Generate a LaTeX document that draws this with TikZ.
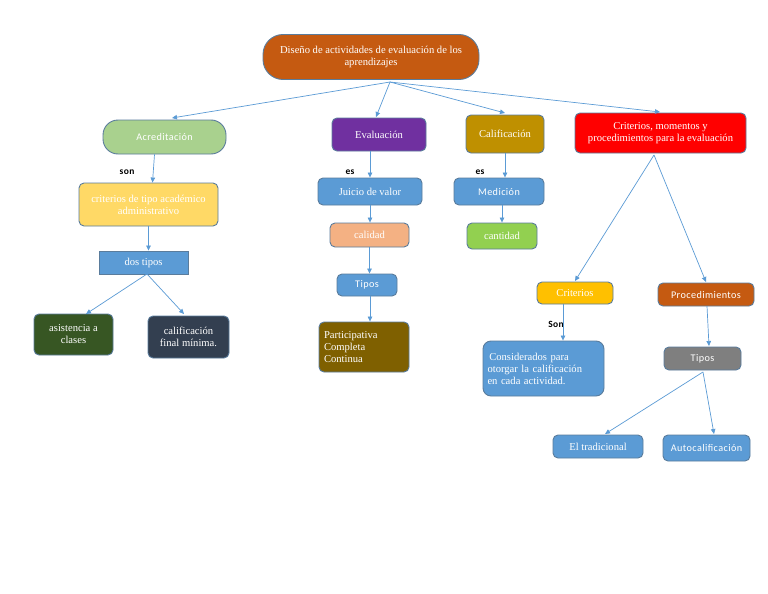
\documentclass[tikz,border=0pt]{standalone}
\usepackage{fontspec}
\setmainfont{Liberation Serif}
\newfontfamily\calib[LetterSpace=4]{Carlito}
\usetikzlibrary{arrows.meta}
\definecolor{cTop}{HTML}{C55A11}
\definecolor{cAcr}{HTML}{A9D18E}
\definecolor{cEva}{HTML}{7030A0}
\definecolor{cCal}{HTML}{BF9000}
\definecolor{cRed}{HTML}{FF0000}
\definecolor{cYel}{HTML}{FFD966}
\definecolor{cBlue}{HTML}{5B9BD5}
\definecolor{cDG}{HTML}{375623}
\definecolor{cNavy}{HTML}{333F50}
\definecolor{cPeach}{HTML}{F4B183}
\definecolor{cOlive}{HTML}{7F6000}
\definecolor{cLime}{HTML}{92D050}
\definecolor{cAmber}{HTML}{FFC000}
\definecolor{cGrey}{HTML}{7F7F7F}
\definecolor{cBorder}{HTML}{5A7C9C}
\definecolor{cArrow}{HTML}{5B9BD5}
\tikzset{
  box/.style={draw=cBorder, line width=0.9pt, rounded corners=5pt, text=white, inner sep=1pt, font=\fontsize{10.6}{12}\selectfont, align=center},
  sbox/.style={box, font=\calib\fontsize{10.2}{12}\selectfont},
  conn/.style={draw=cArrow, line width=0.7pt, -{Triangle[length=5pt,width=4.5pt]}},
  lbl/.style={font=\calib\bfseries\fontsize{9.5}{10}\selectfont, text=black, inner sep=0pt}
}
\begin{document}
\begin{tikzpicture}[x=1pt,y=-1pt]
\useasboundingbox (0,0) rectangle (768,594);
\fill[white] (0,0) rectangle (768,594);
% top
\node[box, fill=cTop, rounded corners=20pt, minimum width=216pt, minimum height=45pt] (top) at (371,57) {Diseño de actividades de evaluación de los\\aprendizajes};
\node[sbox, fill=cAcr, rounded corners=15pt, minimum width=123pt, minimum height=34pt] (acr) at (164.5,137) {Acreditación};
\node[box, fill=cEva, minimum width=94pt, minimum height=33pt] (eva) at (379,134.5) {Evaluación};
\node[box, fill=cCal, minimum width=78pt, minimum height=38pt] (cal) at (505,134) {Calificación};
\node[box, fill=cRed, minimum width=171pt, minimum height=40pt] (crm) at (660.5,133) {Criterios, momentos y\\procedimientos para la evaluación};
% left branch
\node[lbl] (son) at (127,172) {son};
\node[box, fill=cYel, minimum width=139pt, minimum height=43pt] (cta) at (148.5,204.5) {criterios de tipo académico\\administrativo};
\node[box, fill=cBlue, rounded corners=0pt, minimum width=89pt, minimum height=23pt] (dos) at (143.5,262.5) {dos tipos};
\node[box, fill=cDG, minimum width=79pt, minimum height=41pt] (asi) at (73.5,334.5) {asistencia a\\clases};
\node[box, fill=cNavy, minimum width=81pt, minimum height=42pt] (cfm) at (188.5,337) {calificación\\final mínima.};
% evaluacion branch
\node[lbl] (es1) at (350,172) {es};
\node[box, fill=cBlue, minimum width=104pt, minimum height=27pt] (jui) at (370,191.5) {Juicio de valor};
\node[box, fill=cPeach, minimum width=79pt, minimum height=24pt] (cald) at (369.5,235) {calidad};
\node[sbox, fill=cBlue, minimum width=60pt, minimum height=22pt] (tip1) at (367,285) {Tipos};
\node[box, fill=cOlive, minimum width=90pt, minimum height=50pt, align=left, text width=80pt] (par) at (364,347) {Participativa\\Completa\\Continua};
% calificacion branch
\node[lbl] (es2) at (480,172) {es};
\node[sbox, fill=cBlue, minimum width=90pt, minimum height=27pt] (med) at (499,191.5) {Medición};
\node[box, fill=cLime, minimum width=70pt, minimum height=26pt] (cant) at (502,236) {cantidad};
% criterios branch
\node[box, fill=cAmber, minimum width=76pt, minimum height=22pt] (cri) at (575,293) {Criterios};
\node[sbox, fill=cTop, minimum width=96pt, minimum height=23pt] (pro) at (706,294.5) {Procedimientos};
\node[lbl] (son2) at (556,324) {Son};
\node[box, fill=cBlue, rounded corners=8pt, minimum width=121pt, minimum height=55pt, align=left, text width=112pt] (con) at (543.5,368.5) {\,Considerados para\\otorgar la calificación\\en cada actividad.};
\node[sbox, fill=cGrey, minimum width=77pt, minimum height=23pt] (tip2) at (702.5,358.5) {Tipos};
\node[box, fill=cBlue, minimum width=90pt, minimum height=23pt] (tra) at (598,446.5) {El tradicional};
\node[sbox, fill=cBlue, minimum width=87pt, minimum height=26pt] (aut) at (706.5,448) {Autocalificación};
% connectors
\coordinate (tp) at (390,82);
\draw[conn] (tp) -- (172,118);
\draw[conn] (tp) -- (376,117);
\draw[conn] (tp) -- (505,113);
\draw[conn] (tp) -- (660,112);
\draw[conn] ([xshift=-10pt]acr.south) -- ([xshift=4pt]cta.north);
\draw[conn] (cta.south) -- (cta.south |- dos.north);
\coordinate (dt) at (147,274);
\draw[conn] (dt) -- (86,314);
\draw[conn] (dt) -- (184,314);
\draw[conn] ([xshift=-9pt]eva.south) -- ([xshift=-9pt]eva.south |- jui.north);
\draw[conn] (jui.south) -- (jui.south |- cald.north);
\draw[conn] (cald.south) -- (cald.south |- tip1.north);
\draw[conn] ([xshift=3pt]tip1.south) -- ([xshift=3pt]tip1.south |- par.north);
\draw[conn] (cal.south) -- (cal.south |- med.north);
\draw[conn] ([xshift=3pt]med.south) -- ([xshift=3pt]med.south |- cant.north);
\coordinate (cb) at (654,155);
\draw[conn] (cb) -- (575,281);
\draw[conn] (cb) -- (706,282);
\draw[conn] ([xshift=-12pt]cri.south) -- ([xshift=-12pt]cri.south |- con.north);
\draw[conn] (707,306) -- (709,346);
\coordinate (tb) at (703,372);
\draw[conn] (tb) -- (605,434);
\draw[conn] (tb) -- (714,434);
\end{tikzpicture}
\end{document}
